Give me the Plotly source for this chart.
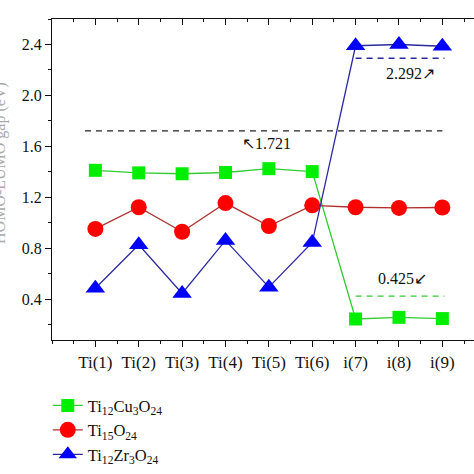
import plotly.graph_objects as go

categories = ["Ti(1)", "Ti(2)", "Ti(3)", "Ti(4)", "Ti(5)", "Ti(6)", "i(7)", "i(8)", "i(9)"]
x_pos = [1, 2, 3, 4, 5, 6, 7, 8, 9]
cu_vals = [1.412, 1.392, 1.385, 1.395, 1.425, 1.402, 0.245, 0.258, 0.248]
ti_vals = [0.952, 1.122, 0.930, 1.155, 0.975, 1.137, 1.122, 1.117, 1.120]
zr_vals = [0.486, 0.828, 0.445, 0.862, 0.495, 0.845, 2.390, 2.400, 2.386]

ref_values = [1.721, 2.292, 0.425]
ref_x0 = [0.76, 7.0, 7.0]
ref_x1 = [9.0, 9.05, 9.05]
ref_colors = ["#222222", "#2a2a9a", "#33cc33"]
ref_labels = ["↖1.721", "2.292↗", "0.425↙"]
ref_label_x = [4.95, 8.27, 8.08]
ref_label_y = [1.625, 2.17, 0.56]

serif = "Liberation Serif, Times New Roman, serif"

fig = go.Figure()
fig.add_trace(go.Scatter(
    x=x_pos, y=cu_vals, mode="lines+markers",
    name="Ti<sub>12</sub>Cu<sub>3</sub>O<sub>24</sub>",
    line=dict(color="#33cc33", width=1.3),
    marker=dict(symbol="square", size=13, color="#00ee00", line=dict(width=0)),
))
fig.add_trace(go.Scatter(
    x=x_pos, y=ti_vals, mode="lines+markers",
    name="Ti<sub>15</sub>O<sub>24</sub>",
    line=dict(color="#b03030", width=1.3),
    marker=dict(symbol="circle", size=16, color="#ff0000", line=dict(width=0)),
))
fig.add_trace(go.Scatter(
    x=x_pos, y=zr_vals, mode="lines+markers",
    name="Ti<sub>12</sub>Zr<sub>3</sub>O<sub>24</sub>",
    line=dict(color="#2a2aa0", width=1.3),
    marker=dict(symbol="triangle-up", size=17, color="#0000ff", line=dict(width=0)),
))

shapes = []
for v, a, b, c in zip(ref_values, ref_x0, ref_x1, ref_colors):
    shapes.append(dict(type="line", xref="x", yref="y", x0=a, x1=b, y0=v, y1=v,
                       line=dict(color=c, width=1.3, dash="6px,5px")))

annotations = []
for t, ax, ay in zip(ref_labels, ref_label_x, ref_label_y):
    annotations.append(dict(x=ax, y=ay, xref="x", yref="y", text=t, showarrow=False,
                            font=dict(family=serif, size=16, color="#111111")))
annotations.append(dict(x=-0.122, y=0.55, xref="paper", yref="paper", textangle=-90,
                        xanchor="center", yanchor="middle",
                        text="HOMO-LUMO gap (eV)", showarrow=False,
                        font=dict(family=serif, size=16, color="#aaaaaa")))

fig.update_layout(
    width=474, height=474,
    margin=dict(l=52, r=0, t=19, b=134),
    paper_bgcolor="white", plot_bgcolor="white",
    font=dict(family=serif, size=16, color="#111111"),
    shapes=shapes, annotations=annotations,
    showlegend=True,
    legend=dict(x=-0.01, y=-0.15, xanchor="left", yanchor="top",
                font=dict(family=serif, size=16.5), tracegroupgap=0,
                bgcolor="rgba(0,0,0,0)", itemwidth=30),
    xaxis=dict(range=[0, 9.73], tickmode="array", tickvals=x_pos, ticktext=categories,
               tickfont=dict(size=17),
               showgrid=False, zeroline=False, showline=True, linecolor="#111111", linewidth=1.3,
               ticks="outside", ticklen=6, tickwidth=1.3, tickcolor="#111111",
               minor=dict(ticks="outside", ticklen=3, tickwidth=1.3, dtick=0.5, tick0=0.5, tickcolor="#111111"),
               mirror=False),
    xaxis2=dict(range=[0, 9.73], overlaying="x", side="top", tickmode="array", tickvals=x_pos,
                showticklabels=False, showgrid=False, zeroline=False, showline=True,
                linecolor="#111111", linewidth=1.3, ticks="inside", ticklen=6, tickwidth=1.3,
                tickcolor="#111111",
                minor=dict(ticks="inside", ticklen=3, tickwidth=1.3, dtick=0.5, tick0=0.5, tickcolor="#111111")),
    yaxis=dict(range=[0.08, 2.6], tickmode="array", tickvals=[0.4, 0.8, 1.2, 1.6, 2.0, 2.4],
               ticktext=["0.4", "0.8", "1.2", "1.6", "2.0", "2.4"],
               tickfont=dict(size=16),
               showgrid=False, zeroline=False, showline=True, linecolor="#111111", linewidth=1.3,
               ticks="outside", ticklen=6, tickwidth=1.3, tickcolor="#111111",
               minor=dict(ticks="outside", ticklen=3, tickwidth=1.3, dtick=0.2, tick0=0.2, tickcolor="#111111")),
)

fig.add_trace(go.Scatter(x=[None], y=[None], xaxis="x2", showlegend=False, hoverinfo="skip"))

fig.write_html("out.html")
